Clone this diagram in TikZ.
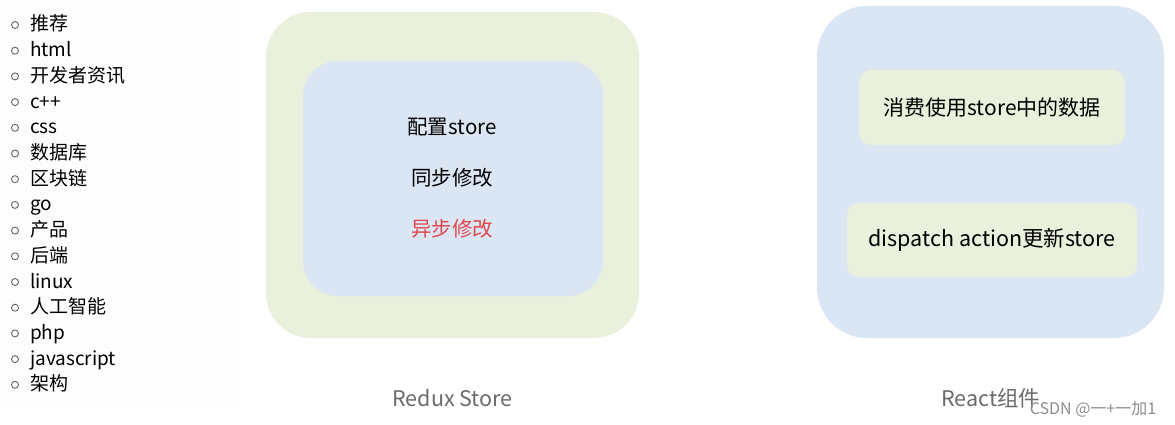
\documentclass[tikz,border=0pt]{standalone}
\usepackage{fontspec}
\setmainfont{Noto Sans CJK SC}
\definecolor{storeGreen}{HTML}{E9F0DC}
\definecolor{storeBlue}{HTML}{DAE6F3}
\definecolor{asyncRed}{HTML}{E0474C}
\definecolor{captionGray}{HTML}{6B6B6B}
\definecolor{listBack}{HTML}{FDFDFD}
\begin{document}
\begin{tikzpicture}[x=1pt,y=-1pt]
\tikzstyle{outer}=[rectangle,draw=none,inner sep=0pt]
\tikzstyle{inner}=[rectangle,draw=none,inner sep=0pt]
\tikzstyle{item}=[anchor=west,inner sep=0pt,font=\fontsize{19}{19}\selectfont,text height=13pt,text depth=4pt]
\tikzstyle{dot}=[circle,draw=black!60,line width=0.9pt,minimum size=7pt,inner sep=0pt]
\tikzstyle{txt}=[font=\fontsize{21}{21}\selectfont,inner sep=0pt]
\tikzstyle{caption}=[font=\fontsize{21.5}{21.5}\selectfont,text=captionGray,inner sep=0pt]

\useasboundingbox (0,0) rectangle (1175,425);
\fill[white] (0,0) rectangle (1175,425);

%the cut-out menu list on the left
\node[rectangle,fill=listBack,minimum width=239pt,minimum height=402pt,anchor=north west,inner sep=0pt] (menu) at (0,0) {};
\foreach \i/\t in {0/推荐,1/html,2/开发者资讯,3/c++,4/css,5/数据库,6/区块链,7/go,8/产品,9/后端,10/linux,11/人工智能,12/php,13/javascript,14/架构}{
  \node[dot] (dot\i) at (15,25+25.7*\i) {};
  \node[item] (item\i) at (30,26.5+25.7*\i) {\t};
}

%Redux store
\node[outer,fill=storeGreen,rounded corners=45pt,minimum width=373pt,minimum height=326pt] (reduxStore) at (452.5,175) {};
\node[inner,fill=storeBlue,rounded corners=35pt,minimum width=300pt,minimum height=235pt] (storeCore) at (453,178.5) {};
\node[txt,font=\fontsize{20.5}{20.5}\selectfont] (config) at (452,127) {配置store};
\node[txt,font=\fontsize{20.5}{20.5}\selectfont] (syncEdit) at (452,178) {同步修改};
\node[txt,font=\fontsize{20.5}{20.5}\selectfont,text=asyncRed] (asyncEdit) at (452,229) {异步修改};
\node[caption] (reduxLabel) at (452.5,398) {Redux Store};

%React component
\node[outer,fill=storeBlue,rounded corners=50pt,minimum width=347pt,minimum height=332pt] (reactComp) at (990.5,172) {};
\node[inner,fill=storeGreen,rounded corners=12pt,minimum width=266pt,minimum height=75pt] (useBox) at (992,107.5) {};
\node[txt] (useData) at (useBox) {消费使用store中的数据};
\node[inner,fill=storeGreen,rounded corners=12pt,minimum width=290pt,minimum height=74pt] (dispatchBox) at (992,240) {};
\node[txt,font=\fontsize{21.5}{21.5}\selectfont] (dispatch) at (dispatchBox) {dispatch action更新store};
\node[caption] (reactLabel) at (991,398) {React组件};

\node[font=\fontsize{16}{16}\selectfont,text=black!45,inner sep=0pt] (mark) at (1093,409) {CSDN @一+一加1};
\end{tikzpicture}
\end{document}
